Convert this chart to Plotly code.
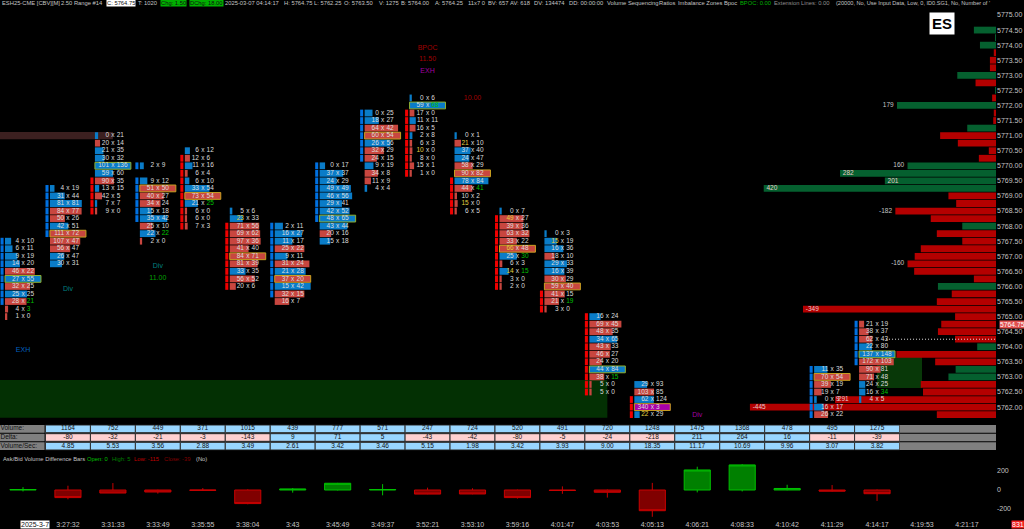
import plotly.graph_objects as go

# FOOTPRINT CELLS (ask x bid), top row first, None = no trades at that price

col_ids = [0, 1, 2, 3, 4, 5, 6, 7, 8, 9, 10, 11, 12, 13, 14, 18, 19]
col_tops = [5767.5, 5769.25, 5771.0, 5770.0, 5770.5, 5768.5, 5768.0, 5770.0, 5771.75,
            5772.25, 5771.0, 5768.5, 5767.75, 5765.0, 5762.75, 5763.25, 5764.75]
body_tops = [5767.5, 5769.25, 5769.5, 5770.0, 5770.25, 5768.0, 5768.0, 5770.0, 5771.75,
             5771.75, 5769.5, 5768.25, 5765.75, 5765.0, 5762.25, 5763.25, 5764.75]
body_bottoms = [5765.5, 5767.75, 5768.5, 5768.25, 5768.0, 5766.0, 5765.75, 5768.25, 5770.25,
                5769.75, 5768.5, 5766.0, 5765.25, 5762.5, 5761.75, 5761.75, 5763.5]
body_up = [True, True, False, True, False, False, True, True, True,
           False, False, False, False, False, False, True, True]

col_0 = [(4, 10), (6, 11), (9, 19), (14, 20), (46, 22), (27, 55), (32, 25), (25, 25), (28, 21), (4, 3), (1, 0)]
col_1 = [(4, 19), (31, 44), (81, 81), (84, 77), (50, 26), (42, 51), (111, 72), (107, 47), (56, 47), (26, 47), (30, 31)]
col_2 = [(0, 21), (20, 14), (21, 35), (30, 32), (101, 136), (59, 60), (90, 35), (13, 15), (42, 5), (7, 7), (9, 0)]
col_3 = [(2, 9), None, (9, 12), (51, 50), (40, 27), (34, 24), (15, 18), (35, 42), (25, 10), (22, 22), (2, 0)]
col_4 = [(6, 12), (12, 6), (11, 16), (6, 4), (6, 10), (33, 54), (73, 54), (21, 25), (6, 0), (6, 0), (7, 3)]
col_5 = [(5, 6), (23, 33), (71, 56), (69, 62), (97, 36), (41, 40), (84, 71), (81, 39), (33, 35), (56, 52), (20, 6)]
col_6 = [(2, 11), (16, 27), (11, 17), (25, 22), (9, 11), (31, 24), (21, 28), (37, 20), (15, 42), (32, 15), (16, 7)]
col_7 = [(0, 17), (37, 37), (24, 29), (49, 49), (46, 56), (29, 41), (42, 52), (48, 65), (43, 44), (20, 16), (15, 18)]
col_8 = [(0, 25), (18, 27), (64, 42), (60, 54), (26, 56), (32, 29), (24, 15), (9, 19), (34, 8), (11, 9), (4, 4)]
col_9 = [(0, 6), (59, 68), (17, 0), (11, 11), (16, 5), (2, 8), (6, 3), (10, 0), (8, 0), (15, 1), (1, 0)]
col_10 = [(0, 1), (21, 10), (37, 40), (24, 47), (58, 29), (90, 82), (78, 84), (44, 41), (10, 2), (15, 0), (6, 5)]
col_11 = [(0, 7), (49, 27), (39, 36), (63, 32), (33, 22), (66, 48), (25, 30), (6, 3), (14, 15), (3, 0), (2, 0)]
col_12 = [(0, 3), (15, 19), (16, 36), (18, 10), (29, 33), (16, 39), (30, 29), (59, 40), (41, 15), (21, 19), (3, 0)]
col_13 = [(16, 24), (69, 45), (48, 35), (34, 65), (43, 33), (46, 27), (24, 20), (44, 84), (38, 15), (5, 0), (5, 0)]
col_14 = [(29, 93), (103, 85), (62, 124), (340, 3), (22, 29)]
col_18 = [(11, 35), (70, 54), (39, 19), (19, 7), (0, 9), (16, 17), (26, 22)]
col_19 = [(21, 19), (38, 37), (62, 43), (22, 80), (137, 148), (172, 103), (90, 81), (71, 48), (24, 25), (16, 34), (4, 5)]
all_cols = [col_0, col_1, col_2, col_3, col_4, col_5, col_6, col_7, col_8, col_9,
            col_10, col_11, col_12, col_13, col_14, col_18, col_19]

green_bid = [(0, 28, 21), (0, 4, 3), (3, 22, 22), (4, 21, 25), (9, 59, 68), (10, 44, 41),
             (11, 25, 30), (11, 14, 15), (12, 21, 19), (13, 38, 15), (19, 16, 34)]
yellow_ask = [(5, 23, 33), (9, 10, 0), (10, 21, 10), (10, 15, 0), (11, 49, 27), (11, 66, 48),
              (11, 14, 15), (12, 15, 19), (14, 22, 29)]
purple_cells = [(14, 340, 3)]

# VOLUME PROFILE ON THE RIGHT

profile_prices = [5774.5, 5774.25, 5774.0, 5773.75, 5773.5, 5773.25, 5773.0, 5772.75, 5772.5, 5772.25,
                  5772.0, 5771.75, 5771.5, 5771.25, 5771.0, 5770.75, 5770.5, 5770.25, 5770.0, 5769.75,
                  5769.5, 5769.25, 5769.0, 5768.75, 5768.5, 5768.25, 5768.0, 5767.75, 5767.5, 5767.25,
                  5767.0, 5766.75, 5766.5, 5766.25, 5766.0, 5765.75, 5765.5, 5765.25, 5765.0, 5764.75,
                  5764.5, 5764.25, 5764.0, 5763.75, 5763.5, 5763.25, 5763.0, 5762.75, 5762.5, 5762.25,
                  5762.0, 5761.75]
profile_values = [40, 1, 29, -4, -11, -11, 70, -37, 1, -7,
                  179, -4, -5, 52, -101, -69, -13, -31, 160, 282,
                  201, 420, -86, -72, -182, -118, 61, -107, -61, -136,
                  -147, -160, -148, -40, 105, -80, -107, -349, -74, -99,
                  -105, -74, 34, -180, -110, 73, 86, -136, -132, -291,
                  -445, -107]
outside_labels = [179, 160, -182, -160]
inside_labels = [282, 201, 420, -349, -291, -445]
inside_texts = ["282", "201", "420", "-349", "291", "-445"]

# TABLE UNDER THE CHART

table_rows = ["Volume:", "Delta:", "Volume/Sec:"]
table_ids = list(range(1, 20))
volumes = [1164, 752, 449, 371, 1015, 439, 777, 571, 247, 724, 520, 491, 720, 1248, 1475, 1368, 478, 495, 1275]
deltas = [-80, -32, -21, -3, -143, 9, 71, 5, -43, -42, -80, -5, -24, -218, 211, 264, 16, -11, -39]
vol_per_sec = ["4.85", "5.53", "3.56", "2.88", "3.49", "2.61", "3.42", "3.46", "5.15", "1.98",
               "3.42", "3.93", "9.00", "18.35", "11.17", "10.69", "9.96", "3.07", "3.82"]

# ASK/BID DIFFERENCE BARS

diff_ids = list(range(0, 20))
diff_close = [5] + deltas
diff_high = [30, 45, 73, 3, 20, 7, 20, 75, 62, 25, 18, 4, 38, 5, 75, 245, 272, 55, 52, 5]
diff_low = [-15, -98, -32, -38, -8, -150, -28, -5, -56, -45, -45, -90, -40, -80, -282, -25, -15, -3, -15, -115]

time_ids = list(range(1, 22))
time_labels = ["3:27:32", "3:31:33", "3:33:49", "3:35:55", "3:38:04", "3:43", "3:45:49", "3:49:37",
               "3:52:21", "3:53:10", "3:59:16", "4:01:47", "4:03:53", "4:05:13", "4:06:21", "4:08:33",
               "4:10:42", "4:11:29", "4:14:17", "4:19:53", "4:21:17"]

# STUDY TEXT AND ZONES

note_ids = [9, 9, 9, 10, 1, 0, 3, 3, 15]
note_prices = [5773.91, 5773.54, 5773.14, 5772.25, 5765.92, 5763.89, 5766.68, 5766.28, 5761.74]
note_texts = ["BPOC", "11.50", "EXH", "10.00", "Div", "EXH", "Div", "11.00", "Div"]
note_colors = ["#a00000", "#a00000", "#a000a0", "#a00000", "#008080", "#0060c0", "#008080", "#00a000", "#a000a0"]

zone_left = [-0.52, -0.52, 19.0]
zone_right = [2.0, 13.0, 20.0]
zone_top = [5771.12, 5762.9, 5763.66]
zone_bottom = [5770.88, 5761.65, 5762.63]
zone_colors = ["#3c2020", "#033003", "#083808"]
dotted_price = 5764.25
dotted_ids = [19.2, 21.65]

PLOT_H = 519
FONT = "Liberation Sans"
GRAY = "#c4c4c4"
CELL_SIZE = 6.5


def py(pixels):
    return 1 - pixels / PLOT_H


# BUILD THE CELLS

cell_y, cell_base, cell_w, cell_col, line_col, line_w = [], [], [], [], [], []
text_x, text_y, ask_text, bid_text, ask_col, bid_col = [], [], [], [], [], []
side_y, side_base, side_col = [], [], []

for idx, top, rows, b_top, b_bot, up in zip(col_ids, col_tops, all_cols, body_tops, body_bottoms, body_up):
    biggest = max(sum(r) for r in rows if r)
    boxed = False
    for k, row in enumerate(rows):
        if row is None:
            continue
        price = top - 0.25 * k
        ask, bid = row
        total = ask + bid
        cell_y.append(price)
        cell_base.append(idx - 0.4)
        cell_w.append(max(total / biggest * 0.8, 0.05))
        if (idx, ask, bid) in purple_cells:
            color = "#a800a8"
        else:
            color = "#c8463f" if ask > bid else "#0a7cc8"
        cell_col.append(color)
        if total == biggest and not boxed:
            boxed = True
            line_col.append("#c8a020" if ask > bid else "#8fb030")
            line_w.append(1)
        else:
            line_col.append(color)
            line_w.append(0)
        text_x.append(idx)
        text_y.append(price)
        ask_text.append(str(ask))
        bid_text.append(str(bid))
        ask_col.append("#e0d040" if (idx, ask, bid) in yellow_ask else "#dcdcdc")
        bid_col.append("#00c000" if (idx, ask, bid) in green_bid else "#dcdcdc")
        if b_bot <= price <= b_top:
            side_y.append(price)
            side_base.append(idx - 0.5)
            side_col.append("#0070e0" if up else "#f00000")

fig = go.Figure()

# profile sits on the bottom x axis so that the cells draw over it
fig.add_trace(go.Bar(
    x=[abs(v) for v in profile_values], y=profile_prices, orientation="h", width=0.225,
    xaxis="x", yaxis="y",
    marker=dict(color=["#05602f" if v > 0 else "#b40000" for v in profile_values], line_width=0),
))
out_prices = [profile_prices[profile_values.index(v)] for v in outside_labels]
fig.add_trace(go.Scatter(
    x=[abs(v) + 6 for v in outside_labels], y=out_prices, mode="text", xaxis="x", yaxis="y",
    text=[str(v) for v in outside_labels], textposition="middle left",
    textfont=dict(color=GRAY, size=6.5, family=FONT),
))
in_prices = [profile_prices[profile_values.index(v)] for v in inside_labels]
fig.add_trace(go.Scatter(
    x=[abs(v) - 5 for v in inside_labels], y=in_prices, mode="text", xaxis="x", yaxis="y",
    text=inside_texts, textposition="middle right",
    textfont=dict(color="#e8c8c8", size=6.5, family=FONT),
))

fig.add_trace(go.Bar(
    x=[0.068] * len(side_y), y=side_y, base=side_base, orientation="h", width=0.225,
    xaxis="x2", yaxis="y", marker=dict(color=side_col, line_width=0),
))
fig.add_trace(go.Bar(
    x=cell_w, y=cell_y, base=cell_base, orientation="h", width=0.225,
    xaxis="x2", yaxis="y", marker=dict(color=cell_col, line=dict(color=line_col, width=line_w)),
))
fig.add_trace(go.Scatter(
    x=[i - 0.085 for i in text_x], y=text_y, mode="text", xaxis="x2", yaxis="y",
    text=ask_text, textposition="middle left",
    textfont=dict(color=ask_col, size=CELL_SIZE, family=FONT),
))
fig.add_trace(go.Scatter(
    x=text_x, y=text_y, mode="text", xaxis="x2", yaxis="y",
    text=["x"] * len(text_x), textposition="middle center",
    textfont=dict(color="#dcdcdc", size=CELL_SIZE, family=FONT),
))
fig.add_trace(go.Scatter(
    x=[i + 0.085 for i in text_x], y=text_y, mode="text", xaxis="x2", yaxis="y",
    text=bid_text, textposition="middle right",
    textfont=dict(color=bid_col, size=CELL_SIZE, family=FONT),
))
fig.add_trace(go.Scatter(
    x=note_ids, y=note_prices, mode="text", xaxis="x2", yaxis="y",
    text=note_texts, textposition="middle center",
    textfont=dict(color=note_colors, size=7, family=FONT),
))
fig.add_trace(go.Scatter(
    x=dotted_ids, y=[dotted_price, dotted_price], mode="lines", xaxis="x2", yaxis="y",
    line=dict(color="#e0e0e0", width=1, dash="1px,2px"),
))

# TABLE

for row, fills in zip(table_rows, [["#99d6ff"] * 19,
                                   ["#ffd0d0" if d < 0 else "#99d6ff" for d in deltas],
                                   ["#99d6ff"] * 19]):
    fig.add_trace(go.Bar(
        x=[1] * 19, y=[row] * 19, base=[i - 0.5 for i in table_ids], orientation="h", width=0.88,
        xaxis="x3", yaxis="y2", marker=dict(color=fills, line=dict(color="#303030", width=1)),
    ))
    fig.add_trace(go.Bar(
        x=[1.0], y=[row], base=[-0.52], orientation="h", width=0.88,
        xaxis="x3", yaxis="y2", marker=dict(color="#808080", line_width=0),
    ))
    fig.add_trace(go.Bar(
        x=[2.15], y=[row], base=[19.5], orientation="h", width=0.88,
        xaxis="x3", yaxis="y2", marker=dict(color="#808080", line_width=0),
    ))
fig.add_trace(go.Scatter(
    x=[-0.5] * 3, y=table_rows, mode="text", xaxis="x3", yaxis="y2",
    text=table_rows, textposition="middle right",
    textfont=dict(color="#101010", size=6.5, family=FONT),
))
for row, values in zip(table_rows, [volumes, deltas, vol_per_sec]):
    fig.add_trace(go.Scatter(
        x=table_ids, y=[row] * 19, mode="text", xaxis="x3", yaxis="y2",
        text=[str(v) for v in values], textposition="middle center",
        textfont=dict(color="#101010", size=6.5, family=FONT),
    ))

# DIFFERENCE BARS

fig.add_trace(go.Candlestick(
    x=diff_ids, open=[0] * 20, high=diff_high, low=diff_low, close=diff_close,
    xaxis="x3", yaxis="y3", whiskerwidth=0,
    increasing=dict(fillcolor="#008000", line=dict(color="#00c000", width=1)),
    decreasing=dict(fillcolor="#800000", line=dict(color="#c80000", width=1)),
))

for x0, x1, y0, y1, c in zip(zone_left, zone_right, zone_bottom, zone_top, zone_colors):
    fig.add_shape(type="rect", xref="x2", yref="y", x0=x0, x1=x1, y0=y0, y1=y1,
                  fillcolor=c, line_width=0, layer="below")


def label(px, pixels, text, color=GRAY, bg=None, size=5.8, anchor="left", weight=None, pad=0):
    fig.add_annotation(
        x=px / 996, y=py(pixels), xref="paper", yref="paper", text=text, showarrow=False,
        xanchor=anchor, yanchor="middle", bgcolor=bg, borderpad=pad,
        font=dict(color=color, size=size, family=FONT, weight=weight),
    )


# HEADER LINE

label(1, 3, "ESH25-CME [CBV][M]")
label(60, 3, "2.50 Range #14")
label(106, 3, "C: 5764.75", "#101010", "#ffffff")
label(137, 3, "T: 1020")
label(160, 3, "Chg: 1.50", "#101010", "#00b000")
label(189, 3, "DChg: 18.00", "#101010", "#00b000")
label(224, 3, "2025-03-07 04:14:17")
label(283, 3, "H: 5764.75")
label(313, 3, "L: 5762.25")
label(343, 3, "O: 5763.50")
label(378, 3, "V: 1275")
label(400, 3, "B: 5764.00")
label(434, 3, "A: 5764.25")
label(467, 3, "11x7 0")
label(487, 3, "BV: 657")
label(509, 3, "AV: 618")
label(533, 3, "DV: 134474")
label(568, 3, "DD: 00:00:00")
label(606, 3, "Volume Sequencing")
label(658, 3, "Ratios")
label(677, 3, "Imbalance Zones")
label(723, 3, "Bpoc")
label(739, 3, "BPOC: 0.00", "#00b000")
label(773, 3, "Extension Lines: 0.00", "#909090")
label(835, 3, "(20000, No, Use Input Data, Low, 0, ID0.SG1, No, Number of '", size=5.6)

label(942, 24, "ES", "#000000", "#ffffff", size=15, anchor="center", weight="bold", pad=2)
label(999, 324, "5764.75", "#ffffff", "#e05050", size=6.8)

label(2, 459, "Ask/Bid Volume Difference Bars")
label(86, 459, "Open: 0", "#00c000")
label(111, 459, "High: 5", "#008000")
label(133, 459, "Low: -115", "#c00000")
label(163, 459, "Close: -39", "#800000")
label(195, 459, "(No)")

label(35, 524, "2025-3-7", "#101010", "#ffffff", size=7, anchor="center")
label(1018, 524, "831", "#ffffff", "#f02020", size=7, anchor="center")

axis_off = dict(showgrid=False, zeroline=False, showticklabels=False, ticks="", showline=False)
index_range = [-23 / 44.95, (996 - 23) / 44.95]

fig.update_layout(
    width=1024, height=529,
    margin=dict(l=0, r=28, t=0, b=10),
    paper_bgcolor="#000000", plot_bgcolor="#000000",
    barmode="overlay", boxgap=0.17, showlegend=False, hovermode=False,
    font=dict(family=FONT, size=7, color=GRAY),
    xaxis=dict(range=[996 / 0.553, 0], anchor="y", domain=[0, 1], **axis_off),
    xaxis2=dict(range=index_range, anchor="y", overlaying="x", **axis_off),
    xaxis3=dict(
        range=index_range, anchor="free", position=0, domain=[0, 1],
        showgrid=False, zeroline=False, showline=False, ticks="",
        tickmode="array", tickvals=time_ids, ticktext=time_labels,
        tickfont=dict(size=7, color=GRAY, family=FONT), rangeslider=dict(visible=False),
    ),
    yaxis=dict(
        domain=[py(420), 1], range=[5775 - 405 / 30.16, 5775 + 15 / 30.16], anchor="x",
        side="right", showgrid=False, zeroline=False, showline=False, ticks="",
        tickmode="array", tickvals=[5762 + 0.5 * k for k in range(27)],
        ticktext=[f"{5762 + 0.5 * k:.2f}" for k in range(27)],
        tickfont=dict(size=7, color=GRAY, family=FONT),
    ),
    yaxis2=dict(
        domain=[py(450.5), py(424.5)], anchor="x3", type="category", autorange="reversed",
        categoryorder="array", categoryarray=table_rows, **axis_off,
    ),
    yaxis3=dict(
        domain=[py(519), py(459)], range=[(490 - 519) / 0.095, (490 - 459) / 0.095], anchor="x3",
        side="right", showgrid=False, zeroline=False, showline=False, ticks="",
        tickmode="array", tickvals=[200, 0, -200], ticktext=["200", "0", "-200"],
        tickfont=dict(size=7, color=GRAY, family=FONT),
    ),
)

fig.write_html("out.html", config={"displayModeBar": False},
               post_script="document.body.style.margin='0';document.body.style.overflow='hidden';")
